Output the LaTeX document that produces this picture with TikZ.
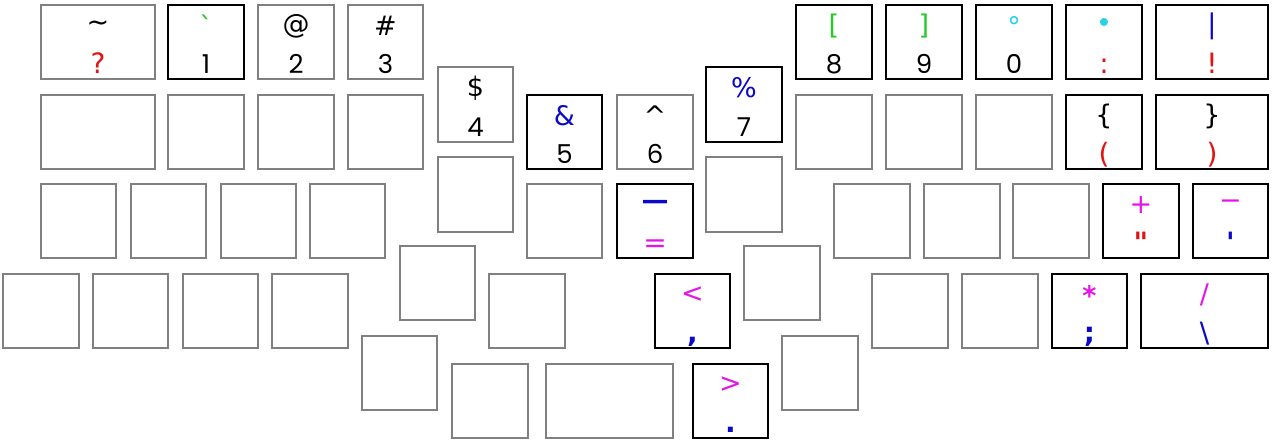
\documentclass[tikz,border=0pt]{standalone}
\usepackage{fontspec}
\setmainfont{Poppins}
\newfontfamily\symf{DejaVu Sans}
\definecolor{kgray}{RGB}{128,128,128}
\definecolor{kred}{RGB}{225,20,20}
\definecolor{kgreen}{RGB}{40,200,40}
\definecolor{kcyan}{RGB}{40,210,230}
\definecolor{kblue}{RGB}{10,10,200}
\definecolor{kmag}{RGB}{230,20,230}
\tikzset{
  keyg/.style={draw=kgray,line width=2pt,fill=white,inner sep=0pt,outer sep=0pt,anchor=north west},
  keyb/.style={draw=black,line width=2pt,fill=white,inner sep=0pt,outer sep=0pt,anchor=north west},
  toplab/.style={font=\symf\fontsize{27}{27}\selectfont,anchor=center,inner sep=0pt},
  botlab/.style={font=\fontsize{26}{26}\selectfont,anchor=base,inner sep=0pt},
}
\newcommand\sy[2]{\textcolor{#1}{\symf\fontsize{28}{28}\selectfont #2}}
\newcommand\kk[8]{%
  \node[#2,minimum width=#5pt-#3pt,minimum height=#6pt-#4pt] (#1) at (#3,#4) {};
  \node[toplab] (#1t) at ([yshift=-21pt]#1.north) {#7};
  \node[botlab] (#1b) at ([yshift=6pt]#1.south) {#8};
}
\begin{document}
\begin{tikzpicture}[x=1pt,y=-1pt]
\useasboundingbox (0,0) rectangle (1274,445);
% row 1
\kk{a1}{keyg}{41}{5}{155}{79}{\textcolor{black}{\char`\~}}{\sy{kred}{?}}
\kk{a2}{keyb}{168}{5}{244}{79}{\textcolor{kgreen}{\char`\`}}{1}
\kk{a3}{keyg}{258}{5}{334}{79}{@}{2}
\kk{a4}{keyg}{348}{5}{423}{79}{\#}{3}
\kk{a5}{keyb}{796}{5}{872}{79}{\textcolor{kgreen}{[}}{8}
\kk{a6}{keyb}{886}{5}{962}{79}{\textcolor{kgreen}{]}}{9}
\kk{a7}{keyb}{976}{5}{1052}{79}{\textcolor{kcyan}{°}}{0}
\kk{a8}{keyb}{1066}{5}{1142}{79}{\textcolor{kcyan}{•}}{\sy{kred}{:}}
\kk{a9}{keyb}{1156}{5}{1268}{79}{\textcolor{kblue}{|}}{\sy{kred}{!}}
% row 2
\kk{b1}{keyg}{41}{95}{155}{169}{}{}
\kk{b2}{keyg}{168}{95}{244}{169}{}{}
\kk{b3}{keyg}{258}{95}{334}{169}{}{}
\kk{b4}{keyg}{348}{95}{423}{169}{}{}
\kk{b5}{keyg}{438}{67}{513}{142}{\$}{4}
\kk{b6}{keyb}{527}{95}{602}{169}{\textcolor{kblue}{\&}}{5}
\kk{b7}{keyg}{617}{95}{693}{169}{\char`\^}{6}
\kk{b8}{keyb}{706}{67}{782}{142}{\textcolor{kblue}{\%}}{7}
\kk{b9}{keyg}{796}{95}{872}{169}{}{}
\kk{b10}{keyg}{886}{95}{962}{169}{}{}
\kk{b11}{keyg}{976}{95}{1052}{169}{}{}
\kk{b12}{keyb}{1066}{95}{1142}{169}{\{}{\sy{kred}{(}}
\kk{b13}{keyb}{1156}{95}{1268}{169}{\}}{\sy{kred}{)}}
% row 3
\kk{c1}{keyg}{41}{184}{116}{258}{}{}
\kk{c2}{keyg}{131}{184}{206}{258}{}{}
\kk{c3}{keyg}{221}{184}{296}{258}{}{}
\kk{c4}{keyg}{310}{184}{385}{258}{}{}
\kk{c5}{keyg}{438}{157}{513}{232}{}{}
\kk{c6}{keyg}{527}{184}{602}{258}{}{}
\kk{c7}{keyb}{617}{184}{693}{258}{\textcolor{kblue}{\bfseries —}}{\sy{kmag}{=}}
\kk{c8}{keyg}{706}{157}{782}{232}{}{}
\kk{c9}{keyg}{834}{184}{910}{258}{}{}
\kk{c10}{keyg}{924}{184}{1000}{258}{}{}
\kk{c11}{keyg}{1013}{184}{1089}{258}{}{}
\kk{c12}{keyb}{1103}{184}{1179}{258}{\textcolor{kmag}{+}}{\sy{kred}{\bfseries\char34}}
\kk{c13}{keyb}{1193}{184}{1268}{258}{\textcolor{kmag}{−}}{\sy{kblue}{\bfseries\char39}}
% row 4
\kk{d1}{keyg}{3}{274}{79}{348}{}{}
\kk{d2}{keyg}{93}{274}{168}{348}{}{}
\kk{d3}{keyg}{183}{274}{258}{348}{}{}
\kk{d4}{keyg}{272}{274}{348}{348}{}{}
\kk{d5}{keyg}{400}{246}{475}{320}{}{}
\kk{d6}{keyg}{489}{274}{565}{348}{}{}
\kk{d7}{keyb}{655}{274}{730}{348}{\textcolor{kmag}{<}}{\sy{kblue}{\bfseries,}}
\kk{d8}{keyg}{744}{246}{820}{320}{}{}
\kk{d9}{keyg}{872}{274}{948}{348}{}{}
\kk{d10}{keyg}{962}{274}{1038}{348}{}{}
\kk{d11}{keyb}{1052}{274}{1127}{348}{\textcolor{kmag}{\bfseries *}}{\sy{kblue}{\bfseries;}}
\kk{d12}{keyb}{1141}{274}{1268}{348}{\textcolor{kmag}{/}}{\sy{kblue}{\char`\\}}
% row 5
\kk{e1}{keyg}{362}{336}{437}{410}{}{}
\kk{e2}{keyg}{452}{364}{528}{438}{}{}
\kk{e3}{keyg}{546}{364}{673}{438}{}{}
\kk{e4}{keyb}{693}{364}{768}{438}{\textcolor{kmag}{>}}{\sy{kblue}{\bfseries.}}
\kk{e5}{keyg}{782}{336}{858}{410}{}{}
\end{tikzpicture}
\end{document}
